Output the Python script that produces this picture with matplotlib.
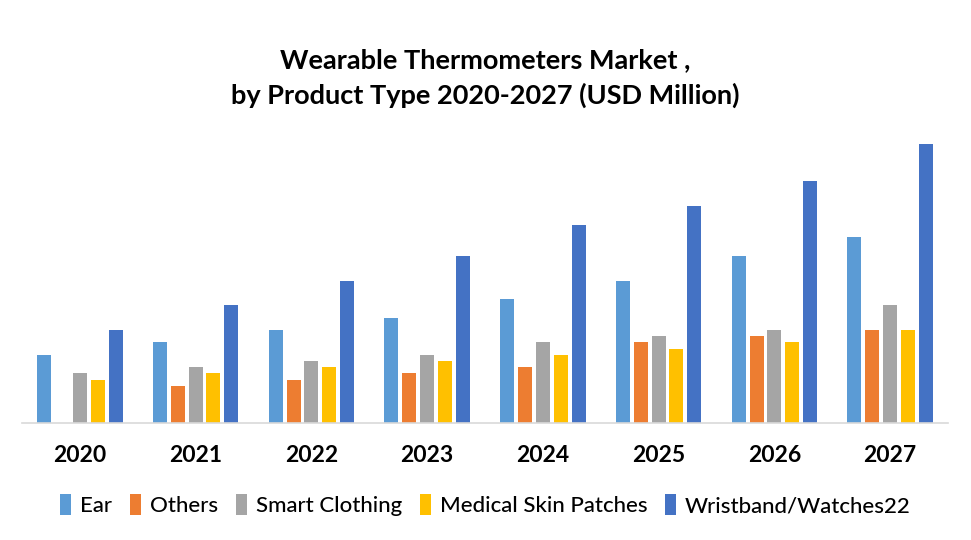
import matplotlib.pyplot as plt
import numpy as np

years = ["2020", "2021", "2022", "2023", "2024", "2025", "2026", "2027"]
series = ["Ear", "Others", "Smart Clothing", "Medical Skin Patches", "Wristband/Watches22"]
ear = [11, 13, 15, 17, 20, 23, 27, 30]
others = [0, 6, 7, 8, 9, 13, 14, 15]
smart_clothing = [8, 9, 10, 11, 13, 14, 15, 19]
medical_patches = [7, 8, 9, 10, 11, 12, 13, 15]
wristband = [15, 19, 23, 27, 32, 35, 39, 45]
colors = ["#5B9BD5", "#ED7D31", "#A5A5A5", "#FFC000", "#4472C4"]

values = [ear, others, smart_clothing, medical_patches, wristband]

plt.rcParams["font.family"] = ["Lato", "DejaVu Sans"]

fig = plt.figure(figsize=(9.71, 5.40), dpi=100)
ax = fig.add_axes([22 / 971, 117 / 540, 926 / 971, 293 / 540])

x = np.arange(len(years))
width = 0.121
step = 0.154
for i, (name, vals, c) in enumerate(zip(series, values, colors)):
    ax.bar(x + (i - 2) * step, vals, width, color=c, label=name)

ax.set_xlim(-0.5, len(years) - 0.5)
ax.set_ylim(0, 47.3)
for s in ["top", "right", "left"]:
    ax.spines[s].set_visible(False)
ax.spines["bottom"].set_color("#D9D9D9")
ax.spines["bottom"].set_linewidth(1.2)
ax.set_yticks([])
ax.set_xticks(x)
ax.set_xticklabels(years, fontsize=16.5, fontweight="bold")
ax.tick_params(axis="x", length=0, pad=16)

fig.text(0.5, 1 - 60 / 540, "Wearable Thermometers Market ,", ha="center", va="center",
         fontsize=19.5, fontweight="bold")
fig.text(0.5, 1 - 95 / 540, "by Product Type 2020-2027 (USD Million)", ha="center", va="center",
         fontsize=19.5, fontweight="bold")

leg = fig.legend(loc="center", bbox_to_anchor=(0.5, 1 - 505 / 540), ncol=5, frameon=False,
                 fontsize=16, handlelength=0.5, handleheight=1.1, handletextpad=0.4,
                 columnspacing=0.8)
for t in leg.get_texts():
    t.set_fontweight("medium")

fig.savefig("out.png", dpi=100)
